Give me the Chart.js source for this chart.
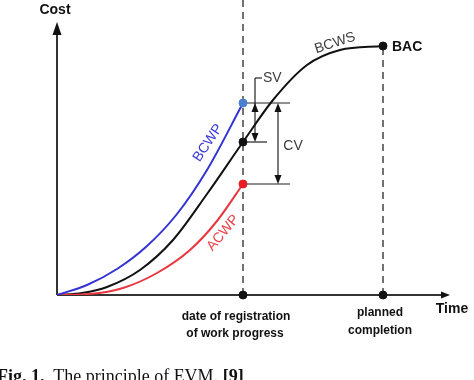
<!DOCTYPE html>
<html lang="en">
<head>
  <meta charset="UTF-8">
  <title>The principle of EVM</title>
  <script src="https://cdn.jsdelivr.net/npm/chart.js"></script>
  <style>
    body {
      margin: 0;
      background: #fff;
      overflow: hidden;
    }
    #wrap {
      position: relative;
      width: 474px;
      height: 380px;
      overflow: hidden;
    }
    .caption {
      position: absolute;
      left: -3px;
      top: 367px;
      font: 18px 'Liberation Serif', serif;
      line-height: 1;
      color: #111;
      white-space: nowrap;
    }
  </style>
</head>
<body>
  <div id="wrap">
    <canvas id="evm" width="474" height="380"></canvas>
    <div class="caption"><b>Fig. 1.</b>&nbsp; The principle of EVM. <b>[9]</b></div>
  </div>

  <script>
    // time / cost in arbitrary units
    const timeMax = 393;
    const costMax = 273;

    const dateOfRegistration = 186;
    const plannedCompletion = 326;

    const bcwsTime = [0, 25, 50, 83, 116, 150, 186, 216, 250, 283, 326];
    const bcwsCost = [0, 2, 8, 25, 55, 101, 153, 195, 230, 245, 249];

    const bcwpTime = [0, 30, 60, 90, 120, 150, 186];
    const bcwpCost = [0, 10, 26, 49, 81, 125, 192];

    const acwpTime = [0, 33, 66, 100, 133, 160, 186];
    const acwpCost = [0, 1, 7, 22, 45, 74, 111];

    const pts = (xs, ys) => xs.map((x, i) => ({ x: x, y: ys[i] }));
    const last = a => a[a.length - 1];

    const bac = last(bcwsCost);
    const bcwpNow = last(bcwpCost);
    const acwpNow = last(acwpCost);
    const bcwsNow = bcwsCost[bcwsTime.indexOf(dateOfRegistration)];

    function tri(ctx, x, y, dir, len, half) {
      ctx.beginPath();
      ctx.moveTo(x, y);
      if (dir === 'up') { ctx.lineTo(x - half, y + len); ctx.lineTo(x + half, y + len); }
      if (dir === 'down') { ctx.lineTo(x - half, y - len); ctx.lineTo(x + half, y - len); }
      if (dir === 'right') { ctx.lineTo(x - len, y - half); ctx.lineTo(x - len, y + half); }
      ctx.closePath();
      ctx.fill();
    }

    function seg(ctx, x1, y1, x2, y2) {
      ctx.beginPath();
      ctx.moveTo(x1, y1);
      ctx.lineTo(x2, y2);
      ctx.stroke();
    }

    const sans = "'Liberation Sans', Arial, sans-serif";
    const texts = [
      { t: 'BCWS', x: 278, y: 252, rot: -18, font: '14px ' + sans, color: '#3c3c3c' },
      { t: 'BCWP', x: 151, y: 152, rot: -56, font: '14px ' + sans, color: '#3a3ad6' },
      { t: 'ACWP', x: 166, y: 62, rot: -50, font: '14px ' + sans, color: '#e8434b' },
      { t: 'CV', x: 236, y: 149, rot: 0, font: '14px ' + sans, color: '#3c3c3c' },
      { t: 'Cost', x: -2, y: 285, rot: 0, font: 'bold 14px ' + sans, color: '#111' },
      { t: 'Time', x: 395, y: -14, rot: 0, font: 'bold 14px ' + sans, color: '#111' },
      { t: 'date of registration', x: 179, y: -22, rot: 0, font: 'bold 12px ' + sans, color: '#111' },
      { t: 'of work progress', x: 178, y: -39, rot: 0, font: 'bold 12px ' + sans, color: '#111' },
      { t: 'planned', x: 323, y: -18, rot: 0, font: 'bold 12px ' + sans, color: '#111' },
      { t: 'completion', x: 323, y: -36, rot: 0, font: 'bold 12px ' + sans, color: '#111' }
    ];

    const evmDecor = {
      id: 'evmDecor',
      beforeDatasetsDraw(chart) {
        const ctx = chart.ctx;
        const xs = chart.scales.x, ys = chart.scales.y;
        const ox = xs.getPixelForValue(0), oy = ys.getPixelForValue(0);
        const topY = ys.getPixelForValue(costMax), endX = xs.getPixelForValue(timeMax);
        ctx.save();
        ctx.strokeStyle = '#333';
        ctx.fillStyle = '#111';
        ctx.lineWidth = 2;
        seg(ctx, ox, oy, ox, topY + 10);
        tri(ctx, ox, topY, 'up', 13, 4.5);
        seg(ctx, ox, oy, endX - 6, oy);
        tri(ctx, endX, oy, 'right', 9, 3.5);

        // SV / CV brackets
        const dx = xs.getPixelForValue(dateOfRegistration);
        const yP = ys.getPixelForValue(bcwpNow);
        const yS = ys.getPixelForValue(bcwsNow);
        const yA = ys.getPixelForValue(acwpNow);
        ctx.strokeStyle = '#222';
        ctx.lineWidth = 1.2;
        seg(ctx, dx, yP, dx + 47, yP);
        seg(ctx, dx, yS, dx + 24, yS);
        seg(ctx, dx, yA, dx + 47, yA);
        const svx = dx + 12, cvx = dx + 35;
        seg(ctx, svx, yP - 25, svx, yS - 8);
        seg(ctx, svx, yP - 25, svx + 7, yP - 25);
        tri(ctx, svx, yP, 'up', 9, 3.5);
        tri(ctx, svx, yS, 'down', 9, 3.5);
        seg(ctx, cvx, yP + 8, cvx, yA - 8);
        tri(ctx, cvx, yP, 'up', 9, 3.5);
        tri(ctx, cvx, yA, 'down', 9, 3.5);
        ctx.fillStyle = '#3c3c3c';
        ctx.font = '14px ' + sans;
        ctx.textAlign = 'left';
        ctx.textBaseline = 'middle';
        ctx.fillText('SV', svx + 8, yP - 25);
        ctx.restore();
      },
      afterDatasetsDraw(chart) {
        const ctx = chart.ctx;
        const xs = chart.scales.x, ys = chart.scales.y;
        ctx.save();
        ctx.textAlign = 'center';
        ctx.textBaseline = 'middle';
        texts.forEach(l => {
          ctx.save();
          ctx.translate(xs.getPixelForValue(l.x), ys.getPixelForValue(l.y));
          ctx.rotate(l.rot * Math.PI / 180);
          ctx.font = l.font;
          ctx.fillStyle = l.color;
          ctx.fillText(l.t, 0, 0);
          ctx.restore();
        });
        ctx.font = 'bold 14px ' + sans;
        ctx.fillStyle = '#111';
        ctx.textAlign = 'left';
        ctx.fillText('BAC', xs.getPixelForValue(plannedCompletion) + 9, ys.getPixelForValue(bac) + 1);
        ctx.restore();
      }
    };

    const curve = (data, color) => ({
      data: data,
      showLine: true,
      borderColor: color,
      borderWidth: 2,
      pointRadius: 0,
      cubicInterpolationMode: 'monotone',
      fill: false
    });

    const dashed = data => ({
      data: data,
      showLine: true,
      borderColor: '#444',
      borderWidth: 1.5,
      borderDash: [7, 5],
      pointRadius: 0,
      clip: false
    });

    const dots = (data, color) => ({
      data: data,
      showLine: false,
      pointRadius: 4,
      pointBackgroundColor: color,
      pointBorderColor: color,
      clip: false
    });

    new Chart(document.getElementById('evm'), {
      type: 'scatter',
      data: {
        datasets: [
          dots([{ x: dateOfRegistration, y: bcwpNow }], '#4a7fd0'),
          dots([{ x: dateOfRegistration, y: acwpNow }], '#e81c24'),
          dots([
            { x: dateOfRegistration, y: bcwsNow },
            { x: plannedCompletion, y: bac },
            { x: dateOfRegistration, y: 0 },
            { x: plannedCompletion, y: 0 }
          ], '#111'),
          curve(pts(bcwpTime, bcwpCost), '#3333d4'),
          curve(pts(acwpTime, acwpCost), '#e8363e'),
          curve(pts(bcwsTime, bcwsCost), '#111'),
          dashed([{ x: dateOfRegistration, y: 0 }, { x: dateOfRegistration, y: 295 }]),
          dashed([{ x: plannedCompletion, y: 0 }, { x: plannedCompletion, y: bac }])
        ]
      },
      options: {
        responsive: false,
        animation: false,
        events: [],
        layout: { padding: { left: 57, right: 24, top: 22, bottom: 85 } },
        scales: {
          x: { type: 'linear', min: 0, max: timeMax, display: false },
          y: { type: 'linear', min: 0, max: costMax, display: false }
        },
        plugins: {
          legend: { display: false },
          tooltip: { enabled: false }
        }
      },
      plugins: [evmDecor]
    });
  </script>
</body>
</html>
